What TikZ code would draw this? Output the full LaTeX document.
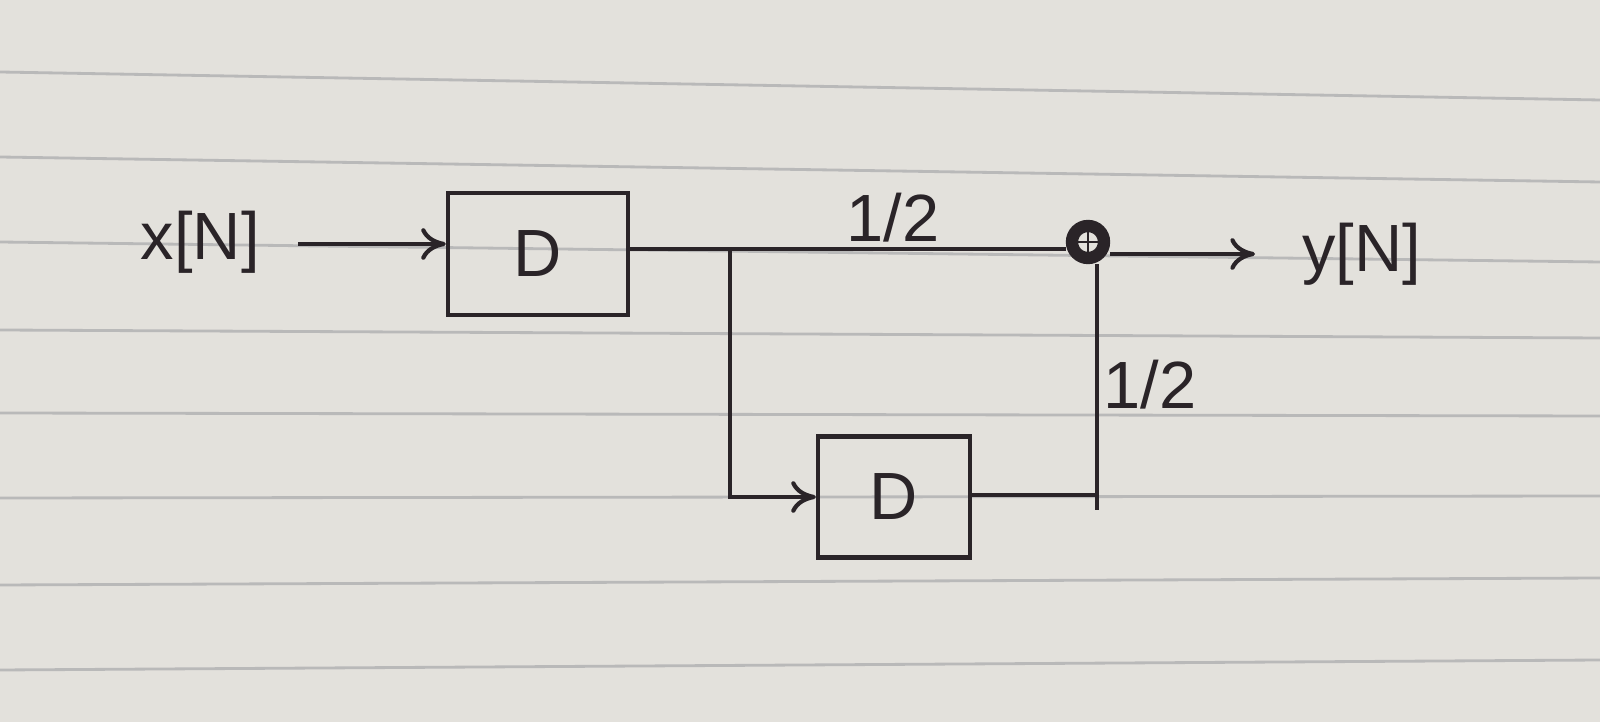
\documentclass[tikz,border=0pt]{standalone}
\usepackage{fontspec}
\setmainfont{Liberation Sans}
\usetikzlibrary{arrows.meta}
\definecolor{paper}{HTML}{E3E1DC}
\definecolor{rule}{HTML}{B9B9B9}
\definecolor{ink}{HTML}{2A2428}
\begin{document}
\begin{tikzpicture}[x=0.01cm,y=-0.01cm,
  ink/.style={draw=ink,line width=1.2pt},
  lbl/.style={text=ink,font=\fontsize{19}{21}\selectfont},
  arr/.style={ink,-{To[length=7pt,width=9pt]}}]
\fill[paper] (0,0) rectangle (1600,722);
\useasboundingbox (0,0) rectangle (1600,722);
\foreach \y/\z in {72/100,157/182,242/262,330/338,413/416,498/496,585/578,670/660}
  \draw[rule,line width=0.8pt] (0,\y) -- (1600,\z);
\node[draw=ink,line width=1.2pt,minimum width=1.8cm,minimum height=1.22cm,inner sep=0pt] (b1) at (538,254) {};
\node[lbl] at (b1) {D};
\node[draw=ink,line width=1.2pt,minimum width=1.52cm,minimum height=1.21cm,inner sep=0pt] (b2) at (894,497) {};
\node[lbl] at (b2) {D};
\node[lbl,anchor=east] (x) at (272,242) {x[N]};
\node[lbl,anchor=west] (y) at (1290,254) {y[N]};
\node[circle,draw=ink,line width=3.5pt,minimum size=0.32cm,inner sep=0pt] (s) at (1088,242) {};
\draw[ink,line width=0.8pt] (s.north) -- (s.south) (s.west) -- (s.east);
\coordinate (j) at (730,249);
\coordinate (jb) at (730,497);
\coordinate (c) at (1097,495);
\coordinate (in) at (298,244);
\coordinate (out) at (1255,254);
\draw[arr] (in) -- (in -| b1.west);
\draw[ink] (j -| b1.east) -- (j) -- (j -| s.west);
\draw[arr] (j) -- (jb) -- (jb -| b2.west);
\draw[ink] (c -| b2.east) -- (c) -- (c |- s.south);
\draw[ink] (1097,510) -- (c);
\draw[arr] (out -| s.east) -- (out);
\node[lbl] at (893,218) {1/2};
\node[lbl] at (1150,385) {1/2};
\end{tikzpicture}
\end{document}
